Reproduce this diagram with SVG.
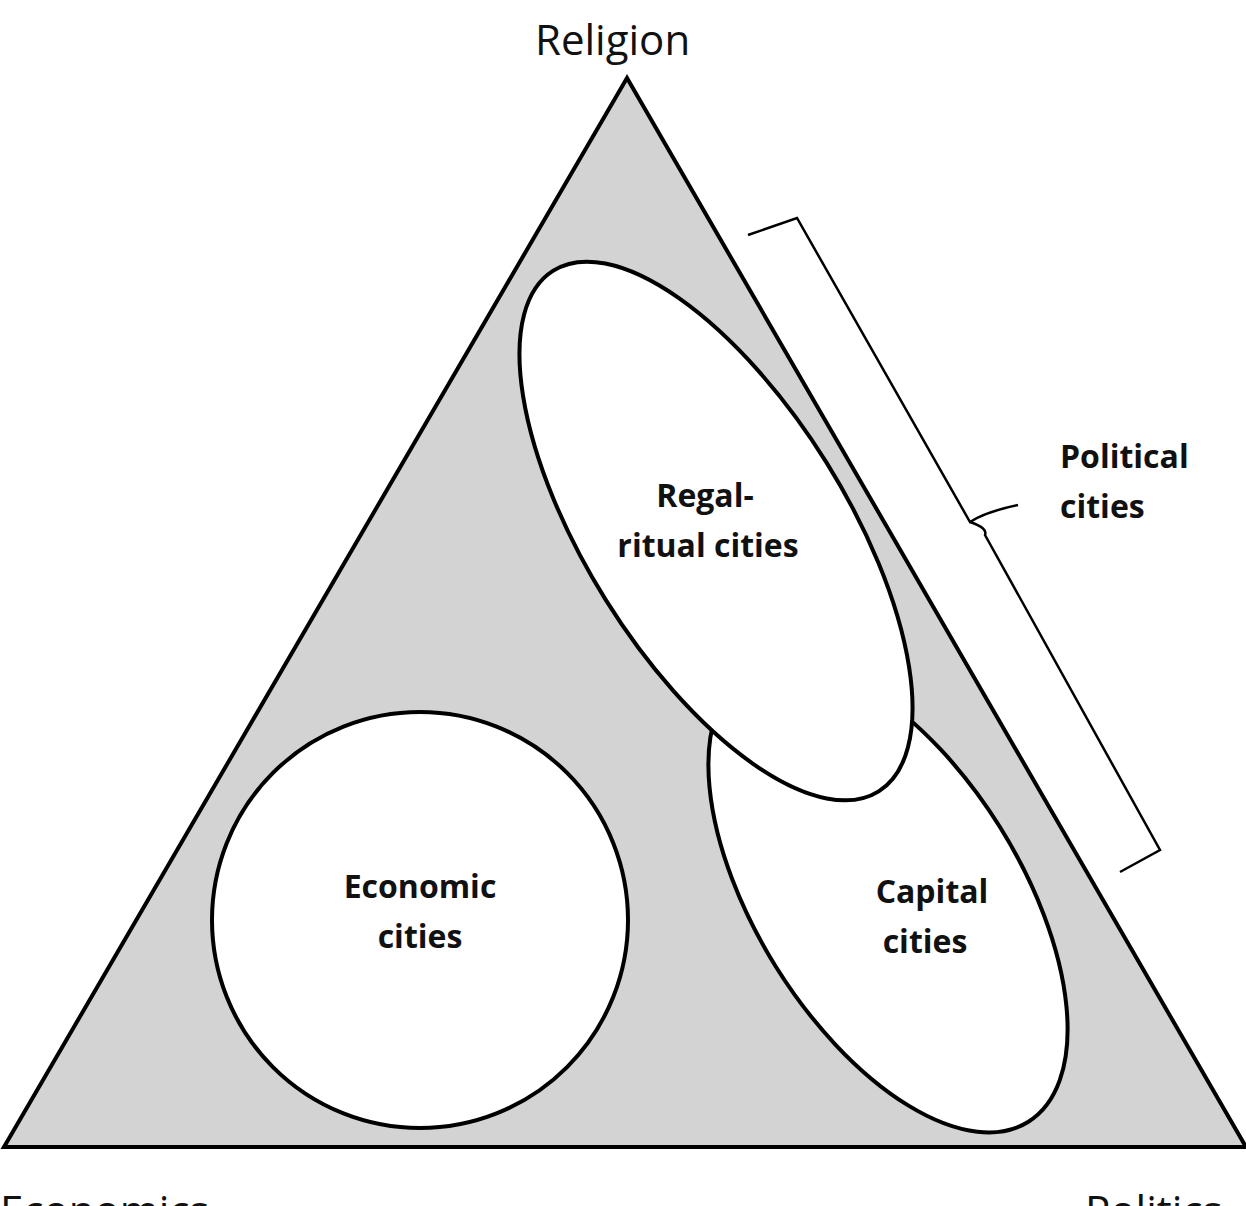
<svg xmlns="http://www.w3.org/2000/svg" width="1246" height="1206" viewBox="0 0 1246 1206">
<style>
.sh{fill:#fff;stroke:#000;stroke-width:4}
.lbl{font-family:"Open Sans","Liberation Sans",sans-serif;font-weight:bold;font-size:32px;fill:#111;text-anchor:middle}
.ax{font-family:"Open Sans","Liberation Sans",sans-serif;font-size:42px;fill:#111}
</style>
<rect width="1246" height="1206" fill="#fff"/>
<g id="triangle"><polygon points="627,78 4,1147 1246,1147" fill="#d3d3d3" stroke="#000" stroke-width="4"/></g>
<g id="economic"><circle class="sh" cx="420" cy="920" r="208"/><text class="lbl" x="420" y="898">Economic</text><text class="lbl" x="420" y="948">cities</text></g>
<g id="capital"><ellipse class="sh" cx="888" cy="897" rx="132" ry="265" transform="rotate(-32 888 897)"/><text class="lbl" x="932" y="903">Capital</text><text class="lbl" x="925" y="953">cities</text></g>
<g id="regal"><ellipse class="sh" cx="716" cy="531" rx="130" ry="307" transform="rotate(-32 716 531)"/><text class="lbl" x="705" y="507">Regal-</text><text class="lbl" x="708" y="557">ritual cities</text></g>
<g id="connectors"><path d="M748,235 L797,218 L970,522 Q985,512 1018,505 M970,522 Q988,528 985,535 L1160,850 L1120,872" fill="none" stroke="#000" stroke-width="2.5"/></g>
<g id="labels">
<text class="ax" x="535" y="55">Religion</text>
<text class="lbl" x="1060" y="468" style="text-anchor:start">Political</text>
<text class="lbl" x="1060" y="518" style="text-anchor:start">cities</text>
<text class="ax" x="0" y="1226">Economics</text>
<text class="ax" x="1085" y="1226">Politics</text>
</g>
</svg>
